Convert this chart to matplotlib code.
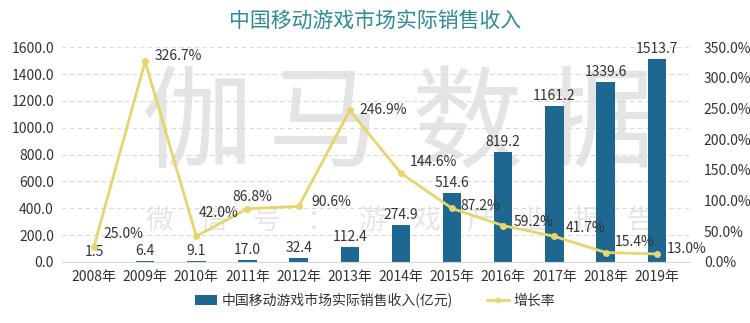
import matplotlib
matplotlib.use("Agg")
import matplotlib.pyplot as plt
from matplotlib.lines import Line2D
from matplotlib.patches import Patch

plt.rcParams['font.family'] = ['Liberation Sans Narrow', 'Noto Sans CJK SC', 'DejaVu Sans']

years = ['2008年', '2009年', '2010年', '2011年', '2012年', '2013年',
         '2014年', '2015年', '2016年', '2017年', '2018年', '2019年']
revenue = [1.5, 6.4, 9.1, 17.0, 32.4, 112.4, 274.9, 514.6, 819.2, 1161.2, 1339.6, 1513.7]
growth = [25.0, 326.7, 42.0, 86.8, 90.6, 246.9, 144.6, 87.2, 59.2, 41.7, 15.4, 13.0]
bar_name = '中国移动游戏市场实际销售收入(亿元)'
line_name = '增长率'
title = '中国移动游戏市场实际销售收入'
left_ticks = [0, 200, 400, 600, 800, 1000, 1200, 1400, 1600]
right_ticks = [0, 50, 100, 150, 200, 250, 300, 350]

# label offsets in pixels (style)
g_off = [(9, 13), (9, 5), (2, 23), (-15, 12), (13, 4), (10, 0),
         (9, 11), (8, 2), (10, 4), (11, 8), (9, 11), (10, 5)]

bar_color = '#1d6791'
line_color = '#e8d46c'
text_color = '#333333'

fig = plt.figure(figsize=(7.5, 3.23), dpi=100)
ax = fig.add_axes([0.083, 0.189, 0.837, 0.665])
ax.set_facecolor('none')
x = list(range(len(years)))

# watermark
wm = '伽马数据'
wm_x = [0.215, 0.415, 0.645, 0.855]
for ch, xx in zip(wm, wm_x):
    ax.text(xx, 0.63, ch, transform=ax.transAxes, fontsize=80, color='#e4e4e4',
            ha='center', va='center', zorder=0, family=['Noto Sans CJK SC'])
sub = '微信号：游戏产业报告'
for i, ch in enumerate(sub):
    ax.text(0.155 + i * 0.085, 0.19, ch, transform=ax.transAxes, fontsize=20,
            color='#e6e6e6', ha='center', va='center', zorder=0,
            family=['Noto Sans CJK SC'])

ax.bar(x, revenue, width=0.36, color=bar_color, zorder=2)
for xi, v in zip(x, revenue):
    ax.annotate(f'{v:.1f}', (xi, v), xytext=(0, 3), textcoords='offset pixels',
                ha='center', va='bottom', fontsize=10, color=text_color, zorder=5)

ax.set_xlim(-0.62, 11.65)
ax.set_ylim(0, 1600)
ax.set_yticks(left_ticks)
ax.set_yticklabels([f'{t:.1f}' for t in left_ticks])
ax.set_xticks(x)
ax.set_xticklabels(years)
ax.grid(axis='y', color='#d9d9d9', linestyle=(0, (4, 3)), linewidth=0.8, zorder=1)
ax.set_axisbelow(True)
for s in ['top', 'right', 'left']:
    ax.spines[s].set_visible(False)
ax.spines['bottom'].set_color('#d9d9d9')
ax.tick_params(axis='both', length=0, labelsize=10, colors=text_color)
ax.tick_params(axis='x', pad=6)
ax.tick_params(axis='y', pad=6)

ax2 = ax.twinx()
ax2.set_ylim(0, 350)
ax2.set_yticks(right_ticks)
ax2.set_yticklabels([f'{t:.1f}%' for t in right_ticks])
for s in ['top', 'right', 'left', 'bottom']:
    ax2.spines[s].set_visible(False)
ax2.tick_params(axis='y', length=0, labelsize=10, colors=text_color, pad=10)
ax2.plot(x, growth, color=line_color, linewidth=2, marker='o', markersize=4,
         zorder=4)
for xi, g, (dx, dy) in zip(x, growth, g_off):
    ax2.annotate(f'{g:.1f}%', (xi, g), xytext=(dx, dy), textcoords='offset pixels',
                 ha='left', va='center', fontsize=10, color=text_color, zorder=5)

fig.text(0.5, 0.935, title, ha='center', va='center', fontsize=15,
         color='#2e8a96', family=['Noto Sans CJK SC'])

handles = [Patch(facecolor=bar_color, edgecolor='none'),
           Line2D([0], [0], color=line_color, linewidth=2, marker='o', markersize=3)]
fig.legend(handles, [bar_name, line_name], loc='center', bbox_to_anchor=(0.5, 0.07),
           ncol=2, frameon=False, fontsize=10, handlelength=1.6, handletextpad=0.3,
           columnspacing=2.5, labelcolor=text_color)

fig.savefig('out.png', dpi=100)
